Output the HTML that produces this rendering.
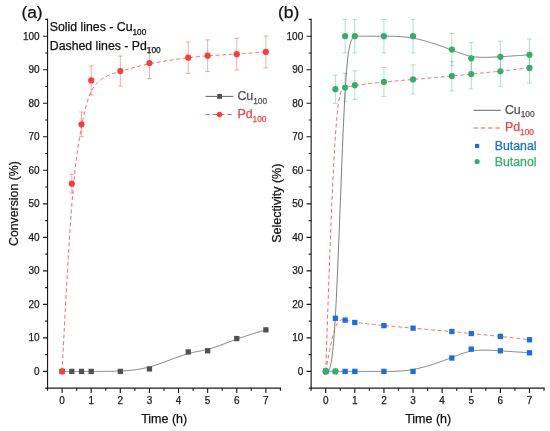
<!DOCTYPE html>
<html><head><meta charset="utf-8"><title>Conversion and selectivity</title>
<style>
html,body{margin:0;padding:0;background:#fff;}
svg{display:block;font-family:"Liberation Sans",Arial,sans-serif;}
text{paint-order:stroke;stroke-width:0.25px;stroke-linejoin:round;}
</style></head>
<body>
<svg width="550" height="431" viewBox="0 0 550 431">
<rect width="550" height="431" fill="#fff"/>
<path d="M71.8,174.3 V193.07 M69.4,174.3 h4.8 M69.4,193.07 h4.8 M81.51,112.01 V136.71 M79.11,112.01 h4.8 M79.11,136.71 h4.8 M91.21,65.9 V94.99 M88.81,65.9 h4.8 M88.81,94.99 h4.8 M120.32,56.04 V86.08 M117.92,56.04 h4.8 M117.92,86.08 h4.8 M149.43,47.6 V78.44 M147.03,47.6 h4.8 M147.03,78.44 h4.8 M188.24,41.97 V73.34 M185.84,41.97 h4.8 M185.84,73.34 h4.8 M207.65,39.85 V71.43 M205.25,39.85 h4.8 M205.25,71.43 h4.8 M236.76,38.27 V70 M234.36,38.27 h4.8 M234.36,70 h4.8 M265.87,35.98 V67.93 M263.47,35.98 h4.8 M263.47,67.93 h4.8 " fill="none" stroke="#F14040" stroke-opacity="0.45" stroke-width="1"/>
<path d="M62.10,371.40 L62.10,371.40 L62.10,371.40 L62.10,371.40 L62.10,371.40 L62.10,371.40 L62.11,371.40 L62.11,371.40 L62.12,371.40 L62.12,371.40 L62.13,371.40 L62.15,371.40 L62.16,371.40 L62.17,371.40 L62.19,371.40 L62.21,371.40 L62.24,371.40 L62.27,371.40 L62.30,371.40 L62.33,371.40 L62.37,371.40 L62.41,371.40 L62.46,371.40 L62.51,371.40 L62.57,371.40 L62.63,371.40 L62.70,371.40 L62.77,371.40 L62.84,371.40 L62.93,371.40 L63.01,371.40 L63.11,371.40 L63.21,371.40 L63.32,371.40 L63.43,371.40 L63.55,371.40 L63.68,371.40 L63.82,371.40 L63.96,371.40 L64.11,371.40 L64.27,371.40 L64.43,371.40 L64.60,371.40 L64.77,371.40 L64.96,371.40 L65.14,371.40 L65.34,371.40 L65.53,371.40 L65.74,371.40 L65.95,371.40 L66.16,371.40 L66.38,371.40 L66.60,371.40 L66.83,371.40 L67.06,371.40 L67.29,371.40 L67.53,371.40 L67.77,371.40 L68.02,371.40 L68.26,371.40 L68.51,371.40 L68.77,371.40 L69.02,371.40 L69.28,371.40 L69.54,371.40 L69.80,371.40 L70.06,371.40 L70.33,371.40 L70.59,371.40 L70.86,371.40 L71.12,371.40 L71.39,371.40 L71.66,371.40 L71.92,371.40 L72.19,371.40 L72.46,371.40 L72.73,371.40 L72.99,371.40 L73.26,371.40 L73.53,371.40 L73.80,371.40 L74.07,371.40 L74.33,371.40 L74.60,371.40 L74.87,371.40 L75.14,371.40 L75.40,371.40 L75.67,371.40 L75.94,371.40 L76.21,371.40 L76.47,371.40 L76.74,371.40 L77.01,371.40 L77.28,371.40 L77.54,371.40 L77.81,371.40 L78.08,371.40 L78.35,371.40 L78.61,371.40 L78.88,371.40 L79.15,371.40 L79.42,371.40 L79.68,371.40 L79.95,371.40 L80.22,371.40 L80.49,371.40 L80.75,371.40 L81.02,371.40 L81.29,371.40 L81.56,371.40 L81.82,371.40 L82.09,371.40 L82.36,371.40 L82.63,371.40 L82.90,371.40 L83.18,371.40 L83.45,371.40 L83.73,371.40 L84.02,371.40 L84.30,371.40 L84.59,371.40 L84.89,371.40 L85.19,371.40 L85.49,371.40 L85.81,371.40 L86.12,371.40 L86.45,371.40 L86.78,371.40 L87.12,371.40 L87.46,371.40 L87.82,371.40 L88.18,371.40 L88.55,371.40 L88.93,371.40 L89.33,371.40 L89.73,371.40 L90.14,371.40 L90.56,371.40 L91.00,371.40 L91.44,371.40 L91.90,371.40 L92.37,371.40 L92.86,371.40 L93.36,371.40 L93.87,371.40 L94.40,371.40 L94.94,371.40 L95.49,371.40 L96.06,371.40 L96.64,371.40 L97.24,371.40 L97.85,371.40 L98.47,371.40 L99.10,371.40 L99.75,371.39 L100.40,371.39 L101.07,371.39 L101.75,371.39 L102.43,371.38 L103.13,371.38 L103.84,371.37 L104.55,371.36 L105.27,371.36 L106.00,371.35 L106.74,371.34 L107.48,371.33 L108.24,371.32 L108.99,371.31 L109.76,371.29 L110.53,371.28 L111.30,371.26 L112.08,371.25 L112.86,371.23 L113.65,371.21 L114.44,371.19 L115.23,371.17 L116.03,371.14 L116.82,371.11 L117.62,371.09 L118.42,371.06 L119.23,371.03 L120.03,370.99 L120.83,370.96 L121.63,370.92 L122.44,370.88 L123.24,370.84 L124.04,370.80 L124.85,370.75 L125.66,370.70 L126.46,370.64 L127.27,370.58 L128.08,370.52 L128.90,370.45 L129.71,370.38 L130.53,370.31 L131.35,370.23 L132.17,370.14 L133.00,370.05 L133.83,369.95 L134.66,369.84 L135.50,369.73 L136.34,369.62 L137.18,369.49 L138.03,369.36 L138.88,369.23 L139.74,369.08 L140.60,368.93 L141.46,368.76 L142.34,368.59 L143.21,368.42 L144.10,368.23 L144.99,368.03 L145.88,367.83 L146.78,367.61 L147.69,367.39 L148.60,367.15 L149.52,366.91 L150.45,366.65 L151.39,366.39 L152.33,366.11 L153.28,365.82 L154.23,365.52 L155.19,365.22 L156.16,364.90 L157.13,364.58 L158.10,364.26 L159.08,363.92 L160.05,363.58 L161.03,363.24 L162.01,362.89 L162.99,362.53 L163.98,362.18 L164.96,361.82 L165.93,361.46 L166.91,361.09 L167.88,360.73 L168.85,360.37 L169.82,360.01 L170.78,359.64 L171.74,359.29 L172.69,358.93 L173.64,358.58 L174.58,358.23 L175.51,357.88 L176.43,357.54 L177.35,357.21 L178.25,356.88 L179.15,356.56 L180.03,356.25 L180.90,355.94 L181.77,355.64 L182.61,355.36 L183.45,355.08 L184.27,354.82 L185.08,354.56 L185.88,354.32 L186.66,354.09 L187.42,353.87 L188.18,353.66 L188.92,353.46 L189.65,353.27 L190.36,353.08 L191.07,352.91 L191.77,352.74 L192.46,352.58 L193.14,352.43 L193.81,352.28 L194.48,352.13 L195.14,352.00 L195.79,351.86 L196.44,351.73 L197.08,351.60 L197.72,351.48 L198.35,351.35 L198.98,351.23 L199.61,351.11 L200.23,350.98 L200.86,350.86 L201.48,350.74 L202.11,350.61 L202.73,350.49 L203.36,350.36 L203.99,350.22 L204.62,350.09 L205.25,349.95 L205.89,349.80 L206.53,349.65 L207.17,349.49 L207.82,349.33 L208.48,349.15 L209.15,348.98 L209.82,348.79 L210.50,348.59 L211.18,348.39 L211.87,348.18 L212.57,347.96 L213.28,347.73 L213.99,347.50 L214.71,347.26 L215.43,347.02 L216.16,346.77 L216.89,346.51 L217.63,346.25 L218.37,345.99 L219.12,345.72 L219.88,345.45 L220.63,345.17 L221.40,344.89 L222.16,344.60 L222.93,344.31 L223.71,344.02 L224.48,343.73 L225.26,343.44 L226.04,343.14 L226.83,342.84 L227.62,342.54 L228.41,342.24 L229.20,341.94 L230.00,341.64 L230.79,341.34 L231.59,341.04 L232.39,340.74 L233.19,340.45 L233.99,340.15 L234.79,339.85 L235.59,339.56 L236.40,339.27 L237.20,338.98 L238.00,338.69 L238.80,338.41 L239.60,338.13 L240.40,337.85 L241.19,337.58 L241.98,337.31 L242.77,337.04 L243.55,336.78 L244.33,336.52 L245.10,336.26 L245.87,336.01 L246.63,335.76 L247.38,335.52 L248.12,335.28 L248.85,335.04 L249.58,334.81 L250.29,334.58 L250.99,334.36 L251.69,334.14 L252.37,333.93 L253.03,333.72 L253.69,333.51 L254.33,333.32 L254.96,333.12 L255.57,332.94 L256.16,332.75 L256.74,332.58 L257.30,332.41 L257.85,332.24 L258.38,332.08 L258.88,331.93 L259.37,331.78 L259.84,331.64 L260.29,331.51 L260.72,331.38 L261.13,331.26 L261.51,331.14 L261.87,331.03 L262.22,330.93 L262.54,330.83 L262.84,330.74 L263.13,330.66 L263.39,330.58 L263.64,330.50 L263.87,330.43 L264.08,330.37 L264.28,330.31 L264.46,330.26 L264.63,330.21 L264.79,330.16 L264.93,330.12 L265.06,330.08 L265.17,330.04 L265.28,330.01 L265.37,329.98 L265.45,329.96 L265.53,329.94 L265.59,329.92 L265.65,329.90 L265.69,329.89 L265.73,329.88 L265.77,329.87 L265.80,329.86 L265.82,329.85 L265.84,329.85 L265.85,329.84 L265.86,329.84 L265.86,329.84 L265.87,329.84 L265.87,329.84 L265.87,329.84 L265.87,329.84" fill="none" stroke="#515151" stroke-width="0.9" stroke-opacity="0.82"/>
<path d="M62.10,371.40 L62.10,371.40 L62.10,371.39 L62.10,371.38 L62.10,371.36 L62.10,371.32 L62.11,371.26 L62.11,371.18 L62.12,371.06 L62.12,370.92 L62.13,370.74 L62.15,370.53 L62.16,370.27 L62.17,369.96 L62.19,369.60 L62.21,369.19 L62.24,368.71 L62.27,368.18 L62.30,367.58 L62.33,366.90 L62.37,366.16 L62.41,365.33 L62.46,364.42 L62.51,363.42 L62.57,362.34 L62.63,361.16 L62.70,359.88 L62.77,358.50 L62.84,357.01 L62.93,355.41 L63.01,353.70 L63.11,351.87 L63.21,349.92 L63.32,347.84 L63.43,345.63 L63.55,343.29 L63.68,340.82 L63.82,338.20 L63.96,335.44 L64.11,332.55 L64.27,329.54 L64.43,326.41 L64.60,323.16 L64.77,319.82 L64.96,316.37 L65.14,312.83 L65.34,309.21 L65.53,305.51 L65.74,301.74 L65.95,297.90 L66.16,294.01 L66.38,290.06 L66.60,286.07 L66.83,282.04 L67.06,277.98 L67.29,273.89 L67.53,269.78 L67.77,265.67 L68.02,261.54 L68.26,257.42 L68.51,253.31 L68.77,249.21 L69.02,245.13 L69.28,241.08 L69.54,237.06 L69.80,233.08 L70.06,229.16 L70.33,225.28 L70.59,221.47 L70.86,217.72 L71.12,214.05 L71.39,210.46 L71.66,206.96 L71.92,203.55 L72.19,200.23 L72.46,197.01 L72.73,193.89 L72.99,190.85 L73.26,187.90 L73.53,185.03 L73.80,182.25 L74.07,179.54 L74.33,176.92 L74.60,174.37 L74.87,171.89 L75.14,169.48 L75.40,167.14 L75.67,164.86 L75.94,162.65 L76.21,160.50 L76.47,158.41 L76.74,156.38 L77.01,154.40 L77.28,152.47 L77.54,150.59 L77.81,148.75 L78.08,146.96 L78.35,145.22 L78.61,143.51 L78.88,141.84 L79.15,140.20 L79.42,138.60 L79.68,137.03 L79.95,135.48 L80.22,133.96 L80.49,132.47 L80.75,130.99 L81.02,129.54 L81.29,128.10 L81.56,126.67 L81.82,125.25 L82.09,123.85 L82.36,122.46 L82.63,121.08 L82.90,119.72 L83.18,118.37 L83.45,117.03 L83.73,115.71 L84.02,114.41 L84.30,113.12 L84.59,111.84 L84.89,110.58 L85.19,109.34 L85.49,108.11 L85.81,106.91 L86.12,105.72 L86.45,104.54 L86.78,103.39 L87.12,102.26 L87.46,101.14 L87.82,100.05 L88.18,98.97 L88.55,97.92 L88.93,96.88 L89.33,95.87 L89.73,94.88 L90.14,93.91 L90.56,92.97 L91.00,92.05 L91.44,91.15 L91.90,90.27 L92.37,89.42 L92.86,88.59 L93.36,87.79 L93.87,87.02 L94.40,86.27 L94.94,85.54 L95.49,84.85 L96.06,84.17 L96.64,83.52 L97.24,82.90 L97.85,82.29 L98.47,81.71 L99.10,81.15 L99.75,80.61 L100.40,80.10 L101.07,79.60 L101.75,79.12 L102.43,78.65 L103.13,78.21 L103.84,77.78 L104.55,77.37 L105.27,76.97 L106.00,76.59 L106.74,76.22 L107.48,75.86 L108.24,75.52 L108.99,75.18 L109.76,74.86 L110.53,74.55 L111.30,74.25 L112.08,73.96 L112.86,73.67 L113.65,73.40 L114.44,73.13 L115.23,72.86 L116.03,72.61 L116.82,72.35 L117.62,72.10 L118.42,71.86 L119.23,71.61 L120.03,71.37 L120.83,71.13 L121.63,70.89 L122.44,70.65 L123.24,70.42 L124.04,70.18 L124.85,69.95 L125.66,69.71 L126.46,69.48 L127.27,69.25 L128.08,69.02 L128.90,68.79 L129.71,68.56 L130.53,68.34 L131.35,68.11 L132.17,67.89 L133.00,67.67 L133.83,67.45 L134.66,67.23 L135.50,67.01 L136.34,66.80 L137.18,66.58 L138.03,66.37 L138.88,66.16 L139.74,65.95 L140.60,65.74 L141.46,65.54 L142.34,65.33 L143.21,65.13 L144.10,64.93 L144.99,64.73 L145.88,64.54 L146.78,64.34 L147.69,64.15 L148.60,63.96 L149.52,63.77 L150.45,63.58 L151.39,63.40 L152.33,63.21 L153.28,63.03 L154.23,62.85 L155.19,62.68 L156.16,62.50 L157.13,62.33 L158.10,62.16 L159.08,61.99 L160.05,61.82 L161.03,61.66 L162.01,61.50 L162.99,61.34 L163.98,61.18 L164.96,61.03 L165.93,60.87 L166.91,60.72 L167.88,60.57 L168.85,60.43 L169.82,60.28 L170.78,60.14 L171.74,60.00 L172.69,59.87 L173.64,59.73 L174.58,59.60 L175.51,59.47 L176.43,59.34 L177.35,59.22 L178.25,59.09 L179.15,58.97 L180.03,58.86 L180.90,58.74 L181.77,58.63 L182.61,58.52 L183.45,58.41 L184.27,58.30 L185.08,58.20 L185.88,58.10 L186.66,58.00 L187.42,57.91 L188.18,57.82 L188.92,57.73 L189.65,57.64 L190.36,57.55 L191.07,57.47 L191.77,57.39 L192.46,57.31 L193.14,57.23 L193.81,57.15 L194.48,57.08 L195.14,57.00 L195.79,56.93 L196.44,56.86 L197.08,56.80 L197.72,56.73 L198.35,56.67 L198.98,56.60 L199.61,56.54 L200.23,56.48 L200.86,56.42 L201.48,56.36 L202.11,56.31 L202.73,56.25 L203.36,56.19 L203.99,56.14 L204.62,56.09 L205.25,56.03 L205.89,55.98 L206.53,55.93 L207.17,55.88 L207.82,55.83 L208.48,55.78 L209.15,55.73 L209.82,55.69 L210.50,55.64 L211.18,55.59 L211.87,55.54 L212.57,55.50 L213.28,55.45 L213.99,55.40 L214.71,55.36 L215.43,55.31 L216.16,55.26 L216.89,55.22 L217.63,55.17 L218.37,55.13 L219.12,55.08 L219.88,55.04 L220.63,54.99 L221.40,54.94 L222.16,54.90 L222.93,54.85 L223.71,54.81 L224.48,54.76 L225.26,54.72 L226.04,54.67 L226.83,54.62 L227.62,54.58 L228.41,54.53 L229.20,54.48 L230.00,54.44 L230.79,54.39 L231.59,54.34 L232.39,54.29 L233.19,54.24 L233.99,54.19 L234.79,54.14 L235.59,54.09 L236.40,54.04 L237.20,53.99 L238.00,53.94 L238.80,53.89 L239.60,53.84 L240.40,53.79 L241.19,53.73 L241.98,53.68 L242.77,53.63 L243.55,53.57 L244.33,53.52 L245.10,53.47 L245.87,53.42 L246.63,53.36 L247.38,53.31 L248.12,53.26 L248.85,53.21 L249.58,53.16 L250.29,53.11 L250.99,53.05 L251.69,53.01 L252.37,52.96 L253.03,52.91 L253.69,52.86 L254.33,52.81 L254.96,52.77 L255.57,52.72 L256.16,52.68 L256.74,52.64 L257.30,52.59 L257.85,52.55 L258.38,52.51 L258.88,52.48 L259.37,52.44 L259.84,52.41 L260.29,52.37 L260.72,52.34 L261.13,52.31 L261.51,52.28 L261.87,52.25 L262.22,52.23 L262.54,52.20 L262.84,52.18 L263.13,52.16 L263.39,52.14 L263.64,52.12 L263.87,52.10 L264.08,52.09 L264.28,52.07 L264.46,52.06 L264.63,52.05 L264.79,52.04 L264.93,52.02 L265.06,52.02 L265.17,52.01 L265.28,52.00 L265.37,51.99 L265.45,51.99 L265.53,51.98 L265.59,51.98 L265.65,51.97 L265.69,51.97 L265.73,51.96 L265.77,51.96 L265.80,51.96 L265.82,51.96 L265.84,51.96 L265.85,51.96 L265.86,51.96 L265.86,51.95 L265.87,51.95 L265.87,51.95 L265.87,51.95 L265.87,51.95" fill="none" stroke="#F14040" stroke-width="0.9" stroke-opacity="0.9" stroke-dasharray="3.9 2.7"/>
<g fill="#515151"><rect x="59.45" y="368.75" width="5.3" height="5.3"/><rect x="69.15" y="368.75" width="5.3" height="5.3"/><rect x="78.86" y="368.75" width="5.3" height="5.3"/><rect x="88.56" y="368.75" width="5.3" height="5.3"/><rect x="117.67" y="368.75" width="5.3" height="5.3"/><rect x="146.78" y="366.24" width="5.3" height="5.3"/><rect x="185.59" y="349.31" width="5.3" height="5.3"/><rect x="205" y="348.14" width="5.3" height="5.3"/><rect x="234.11" y="335.9" width="5.3" height="5.3"/><rect x="263.22" y="327.19" width="5.3" height="5.3"/></g>
<g fill="#F14040"><circle cx="62.1" cy="371.4" r="3.1"/><circle cx="71.8" cy="183.69" r="3.1"/><circle cx="81.51" cy="124.36" r="3.1"/><circle cx="91.21" cy="80.45" r="3.1"/><circle cx="120.32" cy="71.06" r="3.1"/><circle cx="149.43" cy="63.02" r="3.1"/><circle cx="188.24" cy="57.65" r="3.1"/><circle cx="207.65" cy="55.64" r="3.1"/><circle cx="236.76" cy="54.13" r="3.1"/><circle cx="265.87" cy="51.95" r="3.1"/></g>
<g fill="none" stroke="#1a1a1a" stroke-width="1.15"><path d="M47.55,18.84 V388.16 M46.95,388.16 H281.03" /><path d="M47.55,388.16 h-2.4 M47.55,371.4 h-4.6 M47.55,354.64 h-2.4 M47.55,337.88 h-4.6 M47.55,321.12 h-2.4 M47.55,304.36 h-4.6 M47.55,287.6 h-2.4 M47.55,270.84 h-4.6 M47.55,254.08 h-2.4 M47.55,237.32 h-4.6 M47.55,220.56 h-2.4 M47.55,203.8 h-4.6 M47.55,187.04 h-2.4 M47.55,170.28 h-4.6 M47.55,153.52 h-2.4 M47.55,136.76 h-4.6 M47.55,120 h-2.4 M47.55,103.24 h-4.6 M47.55,86.48 h-2.4 M47.55,69.72 h-4.6 M47.55,52.96 h-2.4 M47.55,36.2 h-4.6 M47.55,19.44 h-2.4 M47.55,388.16 v2.6 M62.1,388.16 v4.8 M76.66,388.16 v2.6 M91.21,388.16 v4.8 M105.77,388.16 v2.6 M120.32,388.16 v4.8 M134.88,388.16 v2.6 M149.43,388.16 v4.8 M163.98,388.16 v2.6 M178.54,388.16 v4.8 M193.09,388.16 v2.6 M207.65,388.16 v4.8 M222.2,388.16 v2.6 M236.76,388.16 v4.8 M251.31,388.16 v2.6 M265.87,388.16 v4.8 M280.43,388.16 v2.6 "/></g>
<g font-size="10" fill="#1a1a1a" stroke="#1a1a1a"><text x="39.65" y="375" text-anchor="end">0</text><text x="39.65" y="341.48" text-anchor="end">10</text><text x="39.65" y="307.96" text-anchor="end">20</text><text x="39.65" y="274.44" text-anchor="end">30</text><text x="39.65" y="240.92" text-anchor="end">40</text><text x="39.65" y="207.4" text-anchor="end">50</text><text x="39.65" y="173.88" text-anchor="end">60</text><text x="39.65" y="140.36" text-anchor="end">70</text><text x="39.65" y="106.84" text-anchor="end">80</text><text x="39.65" y="73.32" text-anchor="end">90</text><text x="39.65" y="39.8" text-anchor="end">100</text><text x="62.1" y="403.8" text-anchor="middle">0</text><text x="91.21" y="403.8" text-anchor="middle">1</text><text x="120.32" y="403.8" text-anchor="middle">2</text><text x="149.43" y="403.8" text-anchor="middle">3</text><text x="178.54" y="403.8" text-anchor="middle">4</text><text x="207.65" y="403.8" text-anchor="middle">5</text><text x="236.76" y="403.8" text-anchor="middle">6</text><text x="265.87" y="403.8" text-anchor="middle">7</text></g>
<path d="M345.11,19.44 V52.96 M342.71,19.44 h4.8 M342.71,52.96 h4.8 M354.81,19.44 V52.96 M352.41,19.44 h4.8 M352.41,52.96 h4.8 M383.92,19.44 V52.96 M381.52,19.44 h4.8 M381.52,52.96 h4.8 M413.03,19.44 V52.96 M410.63,19.44 h4.8 M410.63,52.96 h4.8 M451.84,33.52 V65.7 M449.44,33.52 h4.8 M449.44,65.7 h4.8 M471.25,42.67 V73.98 M468.85,42.67 h4.8 M468.85,73.98 h4.8 M500.36,41.09 V72.54 M497.96,41.09 h4.8 M497.96,72.54 h4.8 M529.47,38.97 V70.63 M527.07,38.97 h4.8 M527.07,70.63 h4.8 " fill="none" stroke="#37AD6B" stroke-opacity="0.38" stroke-width="1"/>
<path d="M335.4,75.05 V103.27 M333,75.05 h4.8 M333,103.27 h4.8 M345.11,73.29 V101.68 M342.71,73.29 h4.8 M342.71,101.68 h4.8 M354.81,70.83 V99.45 M352.41,70.83 h4.8 M352.41,99.45 h4.8 M383.92,67.48 V96.43 M381.52,67.48 h4.8 M381.52,96.43 h4.8 M413.03,64.84 V94.04 M410.63,64.84 h4.8 M410.63,94.04 h4.8 M451.84,61.32 V90.85 M449.44,61.32 h4.8 M449.44,90.85 h4.8 M471.25,59.21 V88.94 M468.85,59.21 h4.8 M468.85,88.94 h4.8 M500.36,56.22 V86.24 M497.96,56.22 h4.8 M497.96,86.24 h4.8 M529.47,52.63 V82.99 M527.07,52.63 h4.8 M527.07,82.99 h4.8 " fill="none" stroke="#37AD6B" stroke-opacity="0.38" stroke-width="1"/>
<path d="M325.70,371.40 L325.70,371.40 L325.70,371.40 L325.70,371.40 L325.70,371.40 L325.70,371.40 L325.71,371.40 L325.71,371.40 L325.72,371.40 L325.72,371.40 L325.73,371.40 L325.75,371.40 L325.76,371.40 L325.77,371.40 L325.79,371.40 L325.81,371.40 L325.84,371.40 L325.87,371.40 L325.90,371.40 L325.93,371.40 L325.97,371.40 L326.01,371.40 L326.06,371.40 L326.11,371.40 L326.17,371.40 L326.23,371.40 L326.30,371.40 L326.37,371.40 L326.44,371.40 L326.53,371.40 L326.61,371.40 L326.71,371.40 L326.81,371.40 L326.92,371.40 L327.03,371.40 L327.15,371.40 L327.28,371.40 L327.42,371.40 L327.56,371.40 L327.71,371.40 L327.87,371.40 L328.03,371.40 L328.20,371.40 L328.37,371.40 L328.56,371.40 L328.74,371.40 L328.94,371.40 L329.13,371.40 L329.34,371.40 L329.55,371.40 L329.76,371.40 L329.98,371.40 L330.20,371.40 L330.43,371.40 L330.66,371.40 L330.89,371.40 L331.13,371.40 L331.37,371.40 L331.62,371.40 L331.86,371.40 L332.11,371.40 L332.37,371.40 L332.62,371.40 L332.88,371.40 L333.14,371.40 L333.40,371.40 L333.66,371.40 L333.93,371.40 L334.19,371.40 L334.46,371.40 L334.72,371.40 L334.99,371.40 L335.26,371.40 L335.52,371.40 L335.79,371.40 L336.06,371.40 L336.33,371.40 L336.59,371.40 L336.86,371.40 L337.13,371.40 L337.40,371.40 L337.67,371.40 L337.93,371.40 L338.20,371.40 L338.47,371.40 L338.74,371.40 L339.00,371.40 L339.27,371.40 L339.54,371.40 L339.81,371.40 L340.07,371.40 L340.34,371.40 L340.61,371.40 L340.88,371.40 L341.14,371.40 L341.41,371.40 L341.68,371.40 L341.95,371.40 L342.21,371.40 L342.48,371.40 L342.75,371.40 L343.02,371.40 L343.28,371.40 L343.55,371.40 L343.82,371.40 L344.09,371.40 L344.35,371.40 L344.62,371.40 L344.89,371.40 L345.16,371.40 L345.42,371.40 L345.69,371.40 L345.96,371.40 L346.23,371.40 L346.50,371.40 L346.78,371.40 L347.05,371.40 L347.33,371.40 L347.62,371.40 L347.90,371.40 L348.19,371.40 L348.49,371.40 L348.79,371.40 L349.09,371.40 L349.41,371.40 L349.72,371.40 L350.05,371.40 L350.38,371.40 L350.72,371.40 L351.06,371.40 L351.42,371.40 L351.78,371.40 L352.15,371.40 L352.53,371.40 L352.93,371.40 L353.33,371.40 L353.74,371.40 L354.16,371.40 L354.60,371.40 L355.04,371.40 L355.50,371.40 L355.97,371.40 L356.46,371.40 L356.96,371.40 L357.47,371.40 L358.00,371.40 L358.54,371.40 L359.09,371.40 L359.66,371.40 L360.24,371.40 L360.84,371.40 L361.45,371.40 L362.07,371.40 L362.70,371.40 L363.35,371.40 L364.00,371.40 L364.67,371.40 L365.35,371.40 L366.03,371.40 L366.73,371.40 L367.44,371.40 L368.15,371.40 L368.87,371.40 L369.60,371.40 L370.34,371.40 L371.08,371.40 L371.84,371.40 L372.59,371.40 L373.36,371.40 L374.13,371.40 L374.90,371.40 L375.68,371.40 L376.46,371.40 L377.25,371.40 L378.04,371.40 L378.83,371.40 L379.63,371.40 L380.42,371.40 L381.22,371.40 L382.02,371.40 L382.83,371.40 L383.63,371.40 L384.43,371.40 L385.23,371.40 L386.04,371.40 L386.84,371.40 L387.64,371.40 L388.45,371.39 L389.26,371.39 L390.06,371.38 L390.87,371.37 L391.68,371.36 L392.50,371.34 L393.31,371.33 L394.13,371.31 L394.95,371.28 L395.77,371.25 L396.60,371.22 L397.43,371.18 L398.26,371.14 L399.10,371.10 L399.94,371.05 L400.78,370.99 L401.63,370.93 L402.48,370.86 L403.34,370.78 L404.20,370.70 L405.06,370.61 L405.94,370.52 L406.81,370.41 L407.70,370.30 L408.59,370.18 L409.48,370.05 L410.38,369.92 L411.29,369.77 L412.20,369.62 L413.12,369.45 L414.05,369.28 L414.99,369.10 L415.93,368.90 L416.88,368.70 L417.83,368.49 L418.79,368.27 L419.76,368.04 L420.73,367.80 L421.70,367.55 L422.68,367.30 L423.65,367.04 L424.63,366.77 L425.61,366.50 L426.59,366.22 L427.58,365.93 L428.56,365.64 L429.53,365.35 L430.51,365.05 L431.48,364.75 L432.45,364.44 L433.42,364.13 L434.38,363.82 L435.34,363.50 L436.29,363.18 L437.24,362.86 L438.18,362.54 L439.11,362.22 L440.03,361.90 L440.95,361.58 L441.85,361.25 L442.75,360.93 L443.63,360.61 L444.50,360.29 L445.37,359.97 L446.21,359.65 L447.05,359.34 L447.87,359.03 L448.68,358.72 L449.48,358.41 L450.26,358.11 L451.02,357.81 L451.78,357.52 L452.52,357.23 L453.25,356.94 L453.96,356.66 L454.67,356.38 L455.37,356.11 L456.06,355.84 L456.74,355.58 L457.41,355.32 L458.08,355.07 L458.74,354.82 L459.39,354.57 L460.04,354.34 L460.68,354.10 L461.32,353.88 L461.95,353.65 L462.58,353.44 L463.21,353.23 L463.83,353.02 L464.46,352.83 L465.08,352.64 L465.71,352.45 L466.33,352.27 L466.96,352.10 L467.59,351.94 L468.22,351.78 L468.85,351.63 L469.49,351.49 L470.13,351.35 L470.77,351.23 L471.42,351.10 L472.08,350.99 L472.75,350.89 L473.42,350.79 L474.10,350.70 L474.78,350.62 L475.47,350.55 L476.17,350.48 L476.88,350.42 L477.59,350.37 L478.31,350.32 L479.03,350.28 L479.76,350.25 L480.49,350.22 L481.23,350.20 L481.97,350.18 L482.72,350.17 L483.48,350.16 L484.23,350.16 L485.00,350.16 L485.76,350.17 L486.53,350.18 L487.31,350.20 L488.08,350.22 L488.86,350.24 L489.64,350.27 L490.43,350.30 L491.22,350.33 L492.01,350.36 L492.80,350.40 L493.60,350.44 L494.39,350.48 L495.19,350.53 L495.99,350.57 L496.79,350.62 L497.59,350.67 L498.39,350.72 L499.19,350.77 L500.00,350.82 L500.80,350.87 L501.60,350.92 L502.40,350.97 L503.20,351.02 L504.00,351.07 L504.79,351.13 L505.58,351.18 L506.37,351.23 L507.15,351.28 L507.93,351.33 L508.70,351.38 L509.47,351.43 L510.23,351.48 L510.98,351.53 L511.72,351.58 L512.45,351.63 L513.18,351.68 L513.89,351.73 L514.59,351.78 L515.29,351.82 L515.97,351.87 L516.63,351.91 L517.29,351.96 L517.93,352.00 L518.56,352.04 L519.17,352.09 L519.76,352.13 L520.34,352.17 L520.90,352.21 L521.45,352.24 L521.98,352.28 L522.48,352.31 L522.97,352.35 L523.44,352.38 L523.89,352.41 L524.32,352.44 L524.73,352.47 L525.11,352.50 L525.47,352.52 L525.82,352.54 L526.14,352.57 L526.44,352.59 L526.73,352.61 L526.99,352.63 L527.24,352.64 L527.47,352.66 L527.68,352.67 L527.88,352.69 L528.06,352.70 L528.23,352.71 L528.39,352.72 L528.53,352.73 L528.66,352.74 L528.77,352.75 L528.88,352.76 L528.97,352.76 L529.05,352.77 L529.13,352.77 L529.19,352.78 L529.25,352.78 L529.29,352.78 L529.33,352.79 L529.37,352.79 L529.40,352.79 L529.42,352.79 L529.44,352.79 L529.45,352.79 L529.46,352.80 L529.46,352.80 L529.47,352.80 L529.47,352.80 L529.47,352.80 L529.47,352.80" fill="none" stroke="#515151" stroke-width="0.9" stroke-opacity="0.82"/>
<path d="M325.70,371.40 L325.70,371.40 L325.70,371.40 L325.70,371.40 L325.70,371.40 L325.70,371.40 L325.71,371.40 L325.71,371.40 L325.72,371.40 L325.72,371.40 L325.73,371.40 L325.75,371.40 L325.76,371.40 L325.77,371.40 L325.79,371.40 L325.81,371.40 L325.84,371.40 L325.87,371.40 L325.90,371.40 L325.93,371.40 L325.97,371.40 L326.01,371.40 L326.06,371.40 L326.11,371.40 L326.17,371.40 L326.23,371.40 L326.30,371.40 L326.37,371.40 L326.44,371.40 L326.53,371.40 L326.61,371.40 L326.71,371.40 L326.81,371.40 L326.92,371.40 L327.03,371.40 L327.15,371.40 L327.28,371.40 L327.42,371.40 L327.56,371.39 L327.71,371.38 L327.87,371.34 L328.03,371.28 L328.20,371.18 L328.37,371.04 L328.56,370.86 L328.74,370.62 L328.94,370.32 L329.13,369.95 L329.34,369.51 L329.55,368.99 L329.76,368.37 L329.98,367.66 L330.20,366.85 L330.43,365.92 L330.66,364.88 L330.89,363.71 L331.13,362.41 L331.37,360.98 L331.62,359.39 L331.86,357.66 L332.11,355.76 L332.37,353.70 L332.62,351.47 L332.88,349.05 L333.14,346.45 L333.40,343.65 L333.66,340.65 L333.93,337.44 L334.19,334.01 L334.46,330.37 L334.72,326.49 L334.99,322.37 L335.26,318.02 L335.52,313.41 L335.79,308.55 L336.06,303.46 L336.33,298.15 L336.59,292.63 L336.86,286.92 L337.13,281.03 L337.40,274.98 L337.67,268.78 L337.93,262.44 L338.20,255.98 L338.47,249.41 L338.74,242.75 L339.00,236.01 L339.27,229.20 L339.54,222.34 L339.81,215.45 L340.07,208.52 L340.34,201.59 L340.61,194.67 L340.88,187.76 L341.14,180.89 L341.41,174.06 L341.68,167.29 L341.95,160.60 L342.21,154.00 L342.48,147.50 L342.75,141.11 L343.02,134.86 L343.28,128.75 L343.55,122.80 L343.82,117.02 L344.09,111.44 L344.35,106.05 L344.62,100.87 L344.89,95.93 L345.16,91.23 L345.42,86.78 L345.69,82.58 L345.96,78.62 L346.23,74.89 L346.50,71.38 L346.78,68.09 L347.05,65.02 L347.33,62.15 L347.62,59.47 L347.90,56.99 L348.19,54.69 L348.49,52.57 L348.79,50.61 L349.09,48.82 L349.41,47.18 L349.72,45.69 L350.05,44.35 L350.38,43.13 L350.72,42.04 L351.06,41.08 L351.42,40.22 L351.78,39.48 L352.15,38.83 L352.53,38.27 L352.93,37.80 L353.33,37.40 L353.74,37.08 L354.16,36.82 L354.60,36.62 L355.04,36.46 L355.50,36.35 L355.97,36.28 L356.46,36.23 L356.96,36.21 L357.47,36.20 L358.00,36.20 L358.54,36.20 L359.09,36.20 L359.66,36.20 L360.24,36.20 L360.84,36.20 L361.45,36.20 L362.07,36.20 L362.70,36.20 L363.35,36.20 L364.00,36.20 L364.67,36.20 L365.35,36.20 L366.03,36.20 L366.73,36.20 L367.44,36.20 L368.15,36.20 L368.87,36.20 L369.60,36.20 L370.34,36.20 L371.08,36.20 L371.84,36.20 L372.59,36.20 L373.36,36.20 L374.13,36.20 L374.90,36.20 L375.68,36.20 L376.46,36.20 L377.25,36.20 L378.04,36.20 L378.83,36.20 L379.63,36.20 L380.42,36.20 L381.22,36.20 L382.02,36.20 L382.83,36.20 L383.63,36.20 L384.43,36.20 L385.23,36.20 L386.04,36.20 L386.84,36.20 L387.64,36.20 L388.45,36.21 L389.26,36.21 L390.06,36.22 L390.87,36.23 L391.68,36.24 L392.50,36.26 L393.31,36.27 L394.13,36.29 L394.95,36.32 L395.77,36.35 L396.60,36.38 L397.43,36.42 L398.26,36.46 L399.10,36.50 L399.94,36.55 L400.78,36.61 L401.63,36.67 L402.48,36.74 L403.34,36.82 L404.20,36.90 L405.06,36.99 L405.94,37.08 L406.81,37.19 L407.70,37.30 L408.59,37.42 L409.48,37.55 L410.38,37.68 L411.29,37.83 L412.20,37.98 L413.12,38.15 L414.05,38.32 L414.99,38.50 L415.93,38.70 L416.88,38.90 L417.83,39.11 L418.79,39.33 L419.76,39.56 L420.73,39.80 L421.70,40.05 L422.68,40.30 L423.65,40.56 L424.63,40.83 L425.61,41.10 L426.59,41.38 L427.58,41.66 L428.56,41.95 L429.53,42.25 L430.51,42.55 L431.48,42.85 L432.45,43.16 L433.42,43.47 L434.38,43.78 L435.34,44.09 L436.29,44.41 L437.24,44.73 L438.18,45.05 L439.11,45.37 L440.03,45.69 L440.95,46.01 L441.85,46.33 L442.75,46.65 L443.63,46.97 L444.50,47.29 L445.37,47.61 L446.21,47.93 L447.05,48.24 L447.87,48.55 L448.68,48.85 L449.48,49.16 L450.26,49.46 L451.02,49.75 L451.78,50.04 L452.52,50.33 L453.25,50.61 L453.96,50.89 L454.67,51.17 L455.37,51.44 L456.06,51.70 L456.74,51.96 L457.41,52.22 L458.08,52.47 L458.74,52.71 L459.39,52.96 L460.04,53.19 L460.68,53.42 L461.32,53.64 L461.95,53.86 L462.58,54.08 L463.21,54.28 L463.83,54.48 L464.46,54.68 L465.08,54.87 L465.71,55.05 L466.33,55.23 L466.96,55.39 L467.59,55.56 L468.22,55.71 L468.85,55.86 L469.49,56.00 L470.13,56.14 L470.77,56.26 L471.42,56.38 L472.08,56.50 L472.75,56.60 L473.42,56.70 L474.10,56.79 L474.78,56.87 L475.47,56.94 L476.17,57.01 L476.88,57.07 L477.59,57.13 L478.31,57.17 L479.03,57.22 L479.76,57.25 L480.49,57.28 L481.23,57.31 L481.97,57.33 L482.72,57.34 L483.48,57.35 L484.23,57.35 L485.00,57.35 L485.76,57.35 L486.53,57.34 L487.31,57.33 L488.08,57.31 L488.86,57.29 L489.64,57.27 L490.43,57.24 L491.22,57.21 L492.01,57.18 L492.80,57.14 L493.60,57.11 L494.39,57.07 L495.19,57.03 L495.99,56.98 L496.79,56.94 L497.59,56.89 L498.39,56.85 L499.19,56.80 L500.00,56.75 L500.80,56.70 L501.60,56.66 L502.40,56.61 L503.20,56.56 L504.00,56.51 L504.79,56.46 L505.58,56.41 L506.37,56.36 L507.15,56.31 L507.93,56.26 L508.70,56.21 L509.47,56.16 L510.23,56.11 L510.98,56.06 L511.72,56.01 L512.45,55.96 L513.18,55.92 L513.89,55.87 L514.59,55.82 L515.29,55.78 L515.97,55.73 L516.63,55.68 L517.29,55.64 L517.93,55.60 L518.56,55.55 L519.17,55.51 L519.76,55.47 L520.34,55.43 L520.90,55.39 L521.45,55.36 L521.98,55.32 L522.48,55.29 L522.97,55.25 L523.44,55.22 L523.89,55.19 L524.32,55.16 L524.73,55.13 L525.11,55.10 L525.47,55.08 L525.82,55.06 L526.14,55.03 L526.44,55.01 L526.73,54.99 L526.99,54.97 L527.24,54.96 L527.47,54.94 L527.68,54.93 L527.88,54.91 L528.06,54.90 L528.23,54.89 L528.39,54.88 L528.53,54.87 L528.66,54.86 L528.77,54.85 L528.88,54.84 L528.97,54.84 L529.05,54.83 L529.13,54.83 L529.19,54.82 L529.25,54.82 L529.29,54.82 L529.33,54.81 L529.37,54.81 L529.40,54.81 L529.42,54.81 L529.44,54.81 L529.45,54.81 L529.46,54.80 L529.46,54.80 L529.47,54.80 L529.47,54.80 L529.47,54.80 L529.47,54.80" fill="none" stroke="#515151" stroke-width="0.9" stroke-opacity="0.82"/>
<path d="M325.70,371.40 L325.70,371.40 L325.70,371.40 L325.70,371.39 L325.70,371.39 L325.70,371.38 L325.71,371.36 L325.71,371.34 L325.72,371.31 L325.72,371.26 L325.73,371.21 L325.75,371.15 L325.76,371.08 L325.77,370.99 L325.79,370.89 L325.81,370.77 L325.84,370.64 L325.87,370.49 L325.90,370.32 L325.93,370.13 L325.97,369.92 L326.01,369.68 L326.06,369.43 L326.11,369.14 L326.17,368.84 L326.23,368.50 L326.30,368.14 L326.37,367.75 L326.44,367.33 L326.53,366.88 L326.61,366.39 L326.71,365.88 L326.81,365.32 L326.92,364.74 L327.03,364.11 L327.15,363.45 L327.28,362.75 L327.42,362.01 L327.56,361.23 L327.71,360.41 L327.87,359.56 L328.03,358.68 L328.20,357.77 L328.37,356.83 L328.56,355.86 L328.74,354.88 L328.94,353.87 L329.13,352.84 L329.34,351.80 L329.55,350.74 L329.76,349.68 L329.98,348.60 L330.20,347.52 L330.43,346.43 L330.66,345.34 L330.89,344.25 L331.13,343.16 L331.37,342.07 L331.62,340.99 L331.86,339.92 L332.11,338.86 L332.37,337.82 L332.62,336.79 L332.88,335.78 L333.14,334.78 L333.40,333.82 L333.66,332.87 L333.93,331.95 L334.19,331.06 L334.46,330.21 L334.72,329.38 L334.99,328.60 L335.26,327.85 L335.52,327.14 L335.79,326.47 L336.06,325.84 L336.33,325.25 L336.59,324.70 L336.86,324.19 L337.13,323.71 L337.40,323.27 L337.67,322.86 L337.93,322.48 L338.20,322.13 L338.47,321.81 L338.74,321.52 L339.00,321.26 L339.27,321.02 L339.54,320.81 L339.81,320.63 L340.07,320.46 L340.34,320.32 L340.61,320.20 L340.88,320.10 L341.14,320.02 L341.41,319.95 L341.68,319.90 L341.95,319.87 L342.21,319.85 L342.48,319.84 L342.75,319.84 L343.02,319.86 L343.28,319.88 L343.55,319.91 L343.82,319.95 L344.09,320.00 L344.35,320.05 L344.62,320.10 L344.89,320.16 L345.16,320.21 L345.42,320.27 L345.69,320.33 L345.96,320.39 L346.23,320.45 L346.50,320.51 L346.78,320.57 L347.05,320.63 L347.33,320.69 L347.62,320.75 L347.90,320.81 L348.19,320.87 L348.49,320.93 L348.79,321.00 L349.09,321.06 L349.41,321.12 L349.72,321.19 L350.05,321.25 L350.38,321.32 L350.72,321.39 L351.06,321.45 L351.42,321.52 L351.78,321.59 L352.15,321.65 L352.53,321.72 L352.93,321.79 L353.33,321.86 L353.74,321.93 L354.16,322.00 L354.60,322.08 L355.04,322.15 L355.50,322.22 L355.97,322.29 L356.46,322.37 L356.96,322.44 L357.47,322.52 L358.00,322.59 L358.54,322.67 L359.09,322.75 L359.66,322.82 L360.24,322.90 L360.84,322.98 L361.45,323.06 L362.07,323.14 L362.70,323.22 L363.35,323.30 L364.00,323.38 L364.67,323.46 L365.35,323.54 L366.03,323.63 L366.73,323.71 L367.44,323.79 L368.15,323.87 L368.87,323.96 L369.60,324.04 L370.34,324.12 L371.08,324.20 L371.84,324.29 L372.59,324.37 L373.36,324.45 L374.13,324.53 L374.90,324.62 L375.68,324.70 L376.46,324.78 L377.25,324.86 L378.04,324.94 L378.83,325.02 L379.63,325.11 L380.42,325.19 L381.22,325.27 L382.02,325.35 L382.83,325.43 L383.63,325.50 L384.43,325.58 L385.23,325.66 L386.04,325.74 L386.84,325.82 L387.64,325.89 L388.45,325.97 L389.26,326.05 L390.06,326.12 L390.87,326.20 L391.68,326.27 L392.50,326.35 L393.31,326.42 L394.13,326.50 L394.95,326.57 L395.77,326.65 L396.60,326.72 L397.43,326.79 L398.26,326.87 L399.10,326.94 L399.94,327.02 L400.78,327.09 L401.63,327.17 L402.48,327.24 L403.34,327.32 L404.20,327.39 L405.06,327.47 L405.94,327.54 L406.81,327.62 L407.70,327.70 L408.59,327.77 L409.48,327.85 L410.38,327.93 L411.29,328.01 L412.20,328.09 L413.12,328.17 L414.05,328.25 L414.99,328.33 L415.93,328.41 L416.88,328.49 L417.83,328.57 L418.79,328.66 L419.76,328.74 L420.73,328.82 L421.70,328.91 L422.68,328.99 L423.65,329.08 L424.63,329.16 L425.61,329.25 L426.59,329.33 L427.58,329.42 L428.56,329.50 L429.53,329.59 L430.51,329.67 L431.48,329.76 L432.45,329.84 L433.42,329.93 L434.38,330.01 L435.34,330.10 L436.29,330.18 L437.24,330.26 L438.18,330.35 L439.11,330.43 L440.03,330.51 L440.95,330.59 L441.85,330.67 L442.75,330.76 L443.63,330.83 L444.50,330.91 L445.37,330.99 L446.21,331.07 L447.05,331.14 L447.87,331.22 L448.68,331.29 L449.48,331.37 L450.26,331.44 L451.02,331.51 L451.78,331.58 L452.52,331.65 L453.25,331.72 L453.96,331.79 L454.67,331.86 L455.37,331.92 L456.06,331.99 L456.74,332.06 L457.41,332.12 L458.08,332.19 L458.74,332.25 L459.39,332.31 L460.04,332.38 L460.68,332.44 L461.32,332.50 L461.95,332.57 L462.58,332.63 L463.21,332.69 L463.83,332.75 L464.46,332.82 L465.08,332.88 L465.71,332.94 L466.33,333.00 L466.96,333.07 L467.59,333.13 L468.22,333.19 L468.85,333.26 L469.49,333.32 L470.13,333.39 L470.77,333.45 L471.42,333.52 L472.08,333.58 L472.75,333.65 L473.42,333.72 L474.10,333.78 L474.78,333.85 L475.47,333.92 L476.17,333.99 L476.88,334.06 L477.59,334.13 L478.31,334.20 L479.03,334.28 L479.76,334.35 L480.49,334.42 L481.23,334.50 L481.97,334.57 L482.72,334.65 L483.48,334.72 L484.23,334.80 L485.00,334.87 L485.76,334.95 L486.53,335.03 L487.31,335.11 L488.08,335.19 L488.86,335.27 L489.64,335.35 L490.43,335.43 L491.22,335.51 L492.01,335.59 L492.80,335.67 L493.60,335.75 L494.39,335.83 L495.19,335.92 L495.99,336.00 L496.79,336.09 L497.59,336.17 L498.39,336.26 L499.19,336.34 L500.00,336.43 L500.80,336.51 L501.60,336.60 L502.40,336.69 L503.20,336.78 L504.00,336.86 L504.79,336.95 L505.58,337.04 L506.37,337.12 L507.15,337.21 L507.93,337.30 L508.70,337.39 L509.47,337.47 L510.23,337.56 L510.98,337.64 L511.72,337.73 L512.45,337.81 L513.18,337.89 L513.89,337.97 L514.59,338.05 L515.29,338.13 L515.97,338.21 L516.63,338.29 L517.29,338.37 L517.93,338.44 L518.56,338.51 L519.17,338.58 L519.76,338.65 L520.34,338.72 L520.90,338.79 L521.45,338.85 L521.98,338.91 L522.48,338.97 L522.97,339.03 L523.44,339.08 L523.89,339.14 L524.32,339.19 L524.73,339.23 L525.11,339.28 L525.47,339.32 L525.82,339.36 L526.14,339.40 L526.44,339.43 L526.73,339.47 L526.99,339.50 L527.24,339.53 L527.47,339.56 L527.68,339.58 L527.88,339.60 L528.06,339.63 L528.23,339.65 L528.39,339.66 L528.53,339.68 L528.66,339.70 L528.77,339.71 L528.88,339.72 L528.97,339.73 L529.05,339.74 L529.13,339.75 L529.19,339.76 L529.25,339.76 L529.29,339.77 L529.33,339.77 L529.37,339.78 L529.40,339.78 L529.42,339.78 L529.44,339.79 L529.45,339.79 L529.46,339.79 L529.46,339.79 L529.47,339.79 L529.47,339.79 L529.47,339.79 L529.47,339.79" fill="none" stroke="#F14040" stroke-width="0.9" stroke-opacity="0.9" stroke-dasharray="3.9 2.7"/>
<path d="M325.70,371.40 L325.70,371.40 L325.70,371.39 L325.70,371.37 L325.70,371.34 L325.70,371.28 L325.71,371.19 L325.71,371.06 L325.72,370.90 L325.72,370.68 L325.73,370.41 L325.75,370.09 L325.76,369.70 L325.77,369.23 L325.79,368.70 L325.81,368.07 L325.84,367.36 L325.87,366.56 L325.90,365.65 L325.93,364.64 L325.97,363.51 L326.01,362.27 L326.06,360.90 L326.11,359.41 L326.17,357.77 L326.23,356.00 L326.30,354.08 L326.37,352.00 L326.44,349.76 L326.53,347.36 L326.61,344.79 L326.71,342.04 L326.81,339.10 L326.92,335.98 L327.03,332.66 L327.15,329.14 L327.28,325.41 L327.42,321.47 L327.56,317.33 L327.71,312.99 L327.87,308.47 L328.03,303.78 L328.20,298.93 L328.37,293.93 L328.56,288.80 L328.74,283.54 L328.94,278.18 L329.13,272.71 L329.34,267.15 L329.55,261.52 L329.76,255.83 L329.98,250.08 L330.20,244.29 L330.43,238.47 L330.66,232.64 L330.89,226.79 L331.13,220.96 L331.37,215.14 L331.62,209.36 L331.86,203.61 L332.11,197.92 L332.37,192.29 L332.62,186.74 L332.88,181.28 L333.14,175.92 L333.40,170.68 L333.66,165.56 L333.93,160.57 L334.19,155.73 L334.46,151.05 L334.72,146.54 L334.99,142.22 L335.26,138.09 L335.52,134.17 L335.79,130.45 L336.06,126.94 L336.33,123.63 L336.59,120.52 L336.86,117.59 L337.13,114.84 L337.40,112.27 L337.67,109.86 L337.93,107.62 L338.20,105.54 L338.47,103.61 L338.74,101.82 L339.00,100.17 L339.27,98.66 L339.54,97.28 L339.81,96.02 L340.07,94.87 L340.34,93.84 L340.61,92.91 L340.88,92.07 L341.14,91.34 L341.41,90.68 L341.68,90.11 L341.95,89.61 L342.21,89.19 L342.48,88.82 L342.75,88.52 L343.02,88.26 L343.28,88.05 L343.55,87.88 L343.82,87.74 L344.09,87.64 L344.35,87.55 L344.62,87.48 L344.89,87.42 L345.16,87.36 L345.42,87.31 L345.69,87.25 L345.96,87.19 L346.23,87.14 L346.50,87.08 L346.78,87.02 L347.05,86.96 L347.33,86.90 L347.62,86.84 L347.90,86.78 L348.19,86.72 L348.49,86.66 L348.79,86.60 L349.09,86.53 L349.41,86.47 L349.72,86.41 L350.05,86.34 L350.38,86.28 L350.72,86.21 L351.06,86.15 L351.42,86.08 L351.78,86.01 L352.15,85.94 L352.53,85.88 L352.93,85.81 L353.33,85.74 L353.74,85.67 L354.16,85.60 L354.60,85.52 L355.04,85.45 L355.50,85.38 L355.97,85.31 L356.46,85.23 L356.96,85.16 L357.47,85.08 L358.00,85.01 L358.54,84.93 L359.09,84.85 L359.66,84.78 L360.24,84.70 L360.84,84.62 L361.45,84.54 L362.07,84.46 L362.70,84.38 L363.35,84.30 L364.00,84.22 L364.67,84.14 L365.35,84.06 L366.03,83.97 L366.73,83.89 L367.44,83.81 L368.15,83.73 L368.87,83.64 L369.60,83.56 L370.34,83.48 L371.08,83.40 L371.84,83.31 L372.59,83.23 L373.36,83.15 L374.13,83.07 L374.90,82.98 L375.68,82.90 L376.46,82.82 L377.25,82.74 L378.04,82.66 L378.83,82.58 L379.63,82.49 L380.42,82.41 L381.22,82.33 L382.02,82.25 L382.83,82.17 L383.63,82.10 L384.43,82.02 L385.23,81.94 L386.04,81.86 L386.84,81.78 L387.64,81.71 L388.45,81.63 L389.26,81.55 L390.06,81.48 L390.87,81.40 L391.68,81.33 L392.50,81.25 L393.31,81.18 L394.13,81.10 L394.95,81.03 L395.77,80.95 L396.60,80.88 L397.43,80.81 L398.26,80.73 L399.10,80.66 L399.94,80.58 L400.78,80.51 L401.63,80.43 L402.48,80.36 L403.34,80.28 L404.20,80.21 L405.06,80.13 L405.94,80.06 L406.81,79.98 L407.70,79.90 L408.59,79.83 L409.48,79.75 L410.38,79.67 L411.29,79.59 L412.20,79.51 L413.12,79.43 L414.05,79.35 L414.99,79.27 L415.93,79.19 L416.88,79.11 L417.83,79.03 L418.79,78.94 L419.76,78.86 L420.73,78.78 L421.70,78.69 L422.68,78.61 L423.65,78.52 L424.63,78.44 L425.61,78.35 L426.59,78.27 L427.58,78.18 L428.56,78.10 L429.53,78.01 L430.51,77.93 L431.48,77.84 L432.45,77.76 L433.42,77.67 L434.38,77.59 L435.34,77.50 L436.29,77.42 L437.24,77.34 L438.18,77.25 L439.11,77.17 L440.03,77.09 L440.95,77.01 L441.85,76.93 L442.75,76.84 L443.63,76.77 L444.50,76.69 L445.37,76.61 L446.21,76.53 L447.05,76.46 L447.87,76.38 L448.68,76.31 L449.48,76.23 L450.26,76.16 L451.02,76.09 L451.78,76.02 L452.52,75.95 L453.25,75.88 L453.96,75.81 L454.67,75.74 L455.37,75.68 L456.06,75.61 L456.74,75.54 L457.41,75.48 L458.08,75.41 L458.74,75.35 L459.39,75.29 L460.04,75.22 L460.68,75.16 L461.32,75.10 L461.95,75.03 L462.58,74.97 L463.21,74.91 L463.83,74.85 L464.46,74.78 L465.08,74.72 L465.71,74.66 L466.33,74.60 L466.96,74.53 L467.59,74.47 L468.22,74.41 L468.85,74.34 L469.49,74.28 L470.13,74.21 L470.77,74.15 L471.42,74.08 L472.08,74.02 L472.75,73.95 L473.42,73.88 L474.10,73.82 L474.78,73.75 L475.47,73.68 L476.17,73.61 L476.88,73.54 L477.59,73.47 L478.31,73.40 L479.03,73.32 L479.76,73.25 L480.49,73.18 L481.23,73.10 L481.97,73.03 L482.72,72.95 L483.48,72.88 L484.23,72.80 L485.00,72.73 L485.76,72.65 L486.53,72.57 L487.31,72.49 L488.08,72.41 L488.86,72.33 L489.64,72.25 L490.43,72.17 L491.22,72.09 L492.01,72.01 L492.80,71.93 L493.60,71.85 L494.39,71.77 L495.19,71.68 L495.99,71.60 L496.79,71.51 L497.59,71.43 L498.39,71.34 L499.19,71.26 L500.00,71.17 L500.80,71.09 L501.60,71.00 L502.40,70.91 L503.20,70.82 L504.00,70.74 L504.79,70.65 L505.58,70.56 L506.37,70.48 L507.15,70.39 L507.93,70.30 L508.70,70.21 L509.47,70.13 L510.23,70.04 L510.98,69.96 L511.72,69.87 L512.45,69.79 L513.18,69.71 L513.89,69.63 L514.59,69.55 L515.29,69.47 L515.97,69.39 L516.63,69.31 L517.29,69.23 L517.93,69.16 L518.56,69.09 L519.17,69.02 L519.76,68.95 L520.34,68.88 L520.90,68.81 L521.45,68.75 L521.98,68.69 L522.48,68.63 L522.97,68.57 L523.44,68.52 L523.89,68.46 L524.32,68.41 L524.73,68.37 L525.11,68.32 L525.47,68.28 L525.82,68.24 L526.14,68.20 L526.44,68.17 L526.73,68.13 L526.99,68.10 L527.24,68.07 L527.47,68.04 L527.68,68.02 L527.88,68.00 L528.06,67.97 L528.23,67.95 L528.39,67.94 L528.53,67.92 L528.66,67.90 L528.77,67.89 L528.88,67.88 L528.97,67.87 L529.05,67.86 L529.13,67.85 L529.19,67.84 L529.25,67.84 L529.29,67.83 L529.33,67.83 L529.37,67.82 L529.40,67.82 L529.42,67.82 L529.44,67.81 L529.45,67.81 L529.46,67.81 L529.46,67.81 L529.47,67.81 L529.47,67.81 L529.47,67.81 L529.47,67.81" fill="none" stroke="#F14040" stroke-width="0.9" stroke-opacity="0.9" stroke-dasharray="3.9 2.7"/>
<g fill="#1A6FDF"><rect x="323.05" y="368.75" width="5.3" height="5.3"/><rect x="332.75" y="368.75" width="5.3" height="5.3"/><rect x="342.46" y="368.75" width="5.3" height="5.3"/><rect x="352.16" y="368.75" width="5.3" height="5.3"/><rect x="381.27" y="368.75" width="5.3" height="5.3"/><rect x="410.38" y="368.75" width="5.3" height="5.3"/><rect x="449.19" y="355.34" width="5.3" height="5.3"/><rect x="468.6" y="346.46" width="5.3" height="5.3"/><rect x="497.71" y="348.14" width="5.3" height="5.3"/><rect x="526.82" y="350.15" width="5.3" height="5.3"/></g>
<g fill="#1A6FDF"><rect x="323.05" y="368.75" width="5.3" height="5.3"/><rect x="332.75" y="315.65" width="5.3" height="5.3"/><rect x="342.46" y="317.46" width="5.3" height="5.3"/><rect x="352.16" y="319.81" width="5.3" height="5.3"/><rect x="381.27" y="323" width="5.3" height="5.3"/><rect x="410.38" y="325.51" width="5.3" height="5.3"/><rect x="449.19" y="328.86" width="5.3" height="5.3"/><rect x="468.6" y="330.87" width="5.3" height="5.3"/><rect x="497.71" y="333.72" width="5.3" height="5.3"/><rect x="526.82" y="337.14" width="5.3" height="5.3"/></g>
<g fill="#37AD6B"><circle cx="325.7" cy="371.4" r="3.1"/><circle cx="335.4" cy="371.4" r="3.1"/><circle cx="345.11" cy="36.2" r="3.1"/><circle cx="354.81" cy="36.2" r="3.1"/><circle cx="383.92" cy="36.2" r="3.1"/><circle cx="413.03" cy="36.2" r="3.1"/><circle cx="451.84" cy="49.61" r="3.1"/><circle cx="471.25" cy="58.32" r="3.1"/><circle cx="500.36" cy="56.81" r="3.1"/><circle cx="529.47" cy="54.8" r="3.1"/></g>
<g fill="#37AD6B"><circle cx="325.7" cy="371.4" r="3.1"/><circle cx="335.4" cy="89.16" r="3.1"/><circle cx="345.11" cy="87.49" r="3.1"/><circle cx="354.81" cy="85.14" r="3.1"/><circle cx="383.92" cy="81.95" r="3.1"/><circle cx="413.03" cy="79.44" r="3.1"/><circle cx="451.84" cy="76.09" r="3.1"/><circle cx="471.25" cy="74.08" r="3.1"/><circle cx="500.36" cy="71.23" r="3.1"/><circle cx="529.47" cy="67.81" r="3.1"/></g>
<g fill="none" stroke="#1a1a1a" stroke-width="1.15"><path d="M311.14,18.84 V388.16 M310.54,388.16 H544.62" /><path d="M311.14,388.16 h-2.4 M311.14,371.4 h-4.6 M311.14,354.64 h-2.4 M311.14,337.88 h-4.6 M311.14,321.12 h-2.4 M311.14,304.36 h-4.6 M311.14,287.6 h-2.4 M311.14,270.84 h-4.6 M311.14,254.08 h-2.4 M311.14,237.32 h-4.6 M311.14,220.56 h-2.4 M311.14,203.8 h-4.6 M311.14,187.04 h-2.4 M311.14,170.28 h-4.6 M311.14,153.52 h-2.4 M311.14,136.76 h-4.6 M311.14,120 h-2.4 M311.14,103.24 h-4.6 M311.14,86.48 h-2.4 M311.14,69.72 h-4.6 M311.14,52.96 h-2.4 M311.14,36.2 h-4.6 M311.14,19.44 h-2.4 M311.14,388.16 v2.6 M325.7,388.16 v4.8 M340.25,388.16 v2.6 M354.81,388.16 v4.8 M369.37,388.16 v2.6 M383.92,388.16 v4.8 M398.48,388.16 v2.6 M413.03,388.16 v4.8 M427.58,388.16 v2.6 M442.14,388.16 v4.8 M456.69,388.16 v2.6 M471.25,388.16 v4.8 M485.8,388.16 v2.6 M500.36,388.16 v4.8 M514.91,388.16 v2.6 M529.47,388.16 v4.8 M544.02,388.16 v2.6 "/></g>
<g font-size="10" fill="#1a1a1a" stroke="#1a1a1a"><text x="303.25" y="375" text-anchor="end">0</text><text x="303.25" y="341.48" text-anchor="end">10</text><text x="303.25" y="307.96" text-anchor="end">20</text><text x="303.25" y="274.44" text-anchor="end">30</text><text x="303.25" y="240.92" text-anchor="end">40</text><text x="303.25" y="207.4" text-anchor="end">50</text><text x="303.25" y="173.88" text-anchor="end">60</text><text x="303.25" y="140.36" text-anchor="end">70</text><text x="303.25" y="106.84" text-anchor="end">80</text><text x="303.25" y="73.32" text-anchor="end">90</text><text x="303.25" y="39.8" text-anchor="end">100</text><text x="325.7" y="403.8" text-anchor="middle">0</text><text x="354.81" y="403.8" text-anchor="middle">1</text><text x="383.92" y="403.8" text-anchor="middle">2</text><text x="413.03" y="403.8" text-anchor="middle">3</text><text x="442.14" y="403.8" text-anchor="middle">4</text><text x="471.25" y="403.8" text-anchor="middle">5</text><text x="500.36" y="403.8" text-anchor="middle">6</text><text x="529.47" y="403.8" text-anchor="middle">7</text></g>
<text x="21.4" y="17.5" font-size="17.4" fill="#111" stroke="#111">(a)</text>
<text x="278.0" y="17.5" font-size="17.4" fill="#111" stroke="#111">(b)</text>
<text x="49.8" y="31.4" font-size="12.3" fill="#111" stroke="#111">Solid lines - Cu<tspan font-size="8.3" dy="3.1">100</tspan></text>
<text x="49.8" y="49.8" font-size="12.3" fill="#111" stroke="#111">Dashed lines - Pd<tspan font-size="8.3" dy="3.1">100</tspan></text>
<text x="164.2" y="422.9" font-size="12.5" fill="#111" stroke="#111" text-anchor="middle">Time (h)</text>
<text x="428.2" y="422.9" font-size="12.5" fill="#111" stroke="#111" text-anchor="middle">Time (h)</text>
<text transform="translate(18.2 203.6) rotate(-90)" font-size="12.3" fill="#111" stroke="#111" text-anchor="middle">Conversion (%)</text>
<text transform="translate(281.3 203.2) rotate(-90)" font-size="12.5" fill="#111" stroke="#111" text-anchor="middle">Selectivity (%)</text>
<path d="M205.5,96.4 H233.4" stroke="#515151" stroke-width="0.9"/>
<rect x="217.2" y="94.0" width="4.8" height="4.8" fill="#515151"/>
<text x="237.4" y="100.2" font-size="12.4" fill="#515151" stroke="#515151">Cu<tspan font-size="8.3" dy="3.6">100</tspan></text>
<path d="M205.5,114.5 H233.4" stroke="#F14040" stroke-width="0.9" stroke-dasharray="4.3 3"/>
<circle cx="219.5" cy="114.5" r="2.7" fill="#F14040"/>
<text x="237.4" y="118.3" font-size="12.4" fill="#F14040" stroke="#F14040">Pd<tspan font-size="8.3" dy="3.6">100</tspan></text>
<path d="M473.6,110.3 H500.7" stroke="#515151" stroke-width="0.9"/>
<text x="504.9" y="113.6" font-size="12.4" fill="#515151" stroke="#515151">Cu<tspan font-size="8.3" dy="3.6">100</tspan></text>
<path d="M473.6,128 H500.7" stroke="#F14040" stroke-width="0.9" stroke-dasharray="4.3 3"/>
<text x="504.9" y="131.3" font-size="12.4" fill="#F14040" stroke="#F14040">Pd<tspan font-size="8.3" dy="3.6">100</tspan></text>
<rect x="475" y="143.9" width="4.2" height="4.2" fill="#1A6FDF"/>
<text x="494.8" y="150.1" font-size="12.3" fill="#1A6FDF" stroke="#1A6FDF">Butanal</text>
<circle cx="477.1" cy="161.6" r="2.6" fill="#37AD6B"/>
<text x="494.8" y="165.5" font-size="12.3" fill="#37AD6B" stroke="#37AD6B">Butanol</text>
</svg>
</body></html>
